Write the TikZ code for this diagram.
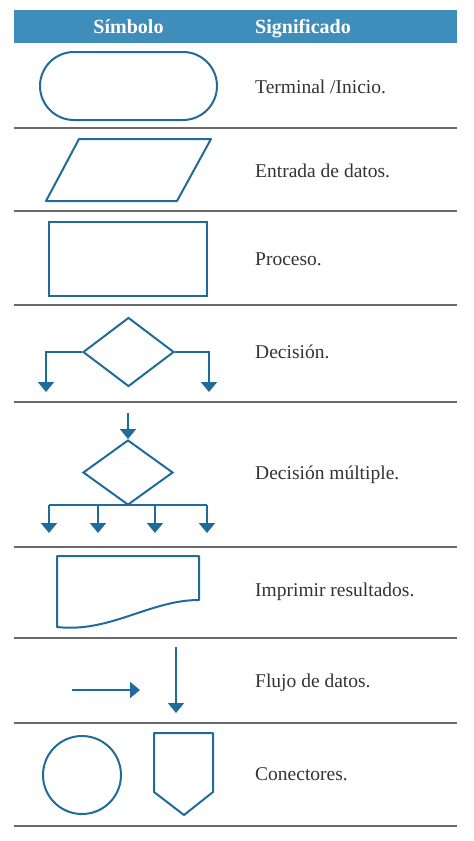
\documentclass[tikz,border=0pt]{standalone}
\usepackage{fontspec}
\setmainfont{Liberation Serif}
\usetikzlibrary{arrows.meta,shapes.geometric,shapes.misc}
\definecolor{blu}{HTML}{1F6C9A}
\definecolor{hdr}{HTML}{3F8DBB}
\definecolor{sepc}{HTML}{6A6A6A}
\definecolor{txt}{HTML}{333333}
\begin{document}
\begin{tikzpicture}[x=1pt,y=-1pt,
  shp/.style={draw=blu,line width=2pt},
  arr/.style={blu,line width=2pt,-{Triangle[length=10pt,width=16pt]}},
  lbl/.style={anchor=west,text=txt,font=\fontsize{19.5}{22}\selectfont,inner sep=0pt},
  hd/.style={text=white,font=\bfseries\fontsize{20}{23}\selectfont,inner sep=0pt},
  sepline/.style={draw=sepc,line width=2pt}]
\useasboundingbox (0,0) rectangle (474,841);
% header
\node[fill=hdr,minimum width=443pt,minimum height=33pt,inner sep=0pt,anchor=north west] (hdrbox) at (14,10) {};
\node[hd,anchor=base] (h1) at (128.5,33) {Símbolo};
\node[hd,anchor=base west] (h2) at (255,33) {Significado};
% separators
\foreach \yy in {128,211,305,402,547,638,723,826}
  \draw[sepline] (14,\yy) -- (457,\yy);
% terminal
\node[shp,rounded rectangle,minimum width=177pt,minimum height=68pt,inner sep=0pt] (term) at (128.5,86) {};
\node[lbl] (t1) at (255,87) {Terminal /Inicio.};
% data input
\draw[shp,line join=round] (79,139) -- (211,139) -- (177,201) -- (46,201) -- cycle;
\node[lbl] (t2) at (255,171) {Entrada de datos.};
% process
\node[shp,rectangle,minimum width=158pt,minimum height=74pt,inner sep=0pt] (proc) at (128,259) {};
\node[lbl] (t3) at (255,259) {Proceso.};
% decision
\node[shp,diamond,minimum width=91pt,minimum height=69pt,inner sep=0pt] (dec) at (128.5,352) {};
\coordinate (decl) at (46,392);
\coordinate (decr) at (209,392);
\draw[arr] (dec.west) -| (decl);
\draw[arr] (dec.east) -| (decr);
\node[lbl] (t4) at (255,352) {Decisión.};
% multiple decision
\node[shp,diamond,minimum width=90pt,minimum height=65pt,inner sep=0pt] (mdec) at (128,472.5) {};
\coordinate (min) at (128,413);
\draw[arr] (min) -- (mdec.north);
\coordinate (b1) at (49,505);
\coordinate (b2) at (98,505);
\coordinate (b3) at (155,505);
\coordinate (b4) at (207,505);
\draw[shp] (b1) -- (b4);
\foreach \bb/\xx in {b1/49,b2/98,b3/155,b4/207}{
  \coordinate (\bb e) at (\xx,533);
  \draw[arr] (\bb) -- (\bb e);
}
\node[lbl] (t5) at (255,475) {Decisión múltiple.};
% print
\draw[shp,line join=round] (57,556) -- (199,556) -- (199,600)
  .. controls (150,600) and (110,633) .. (57,627) -- cycle;
\node[lbl] (t6) at (255,592) {Imprimir resultados.};
% flow
\coordinate (fa) at (72,690);
\coordinate (fb) at (140,690);
\coordinate (fc) at (176,647);
\coordinate (fd) at (176,713);
\draw[arr] (fa) -- (fb);
\draw[arr] (fc) -- (fd);
\node[lbl] (t7) at (255,683) {Flujo de datos.};
% connectors
\node[shp,circle,minimum size=78pt,inner sep=0pt] (circ) at (82,775) {};
\draw[shp,line join=round] (154,733) -- (213,733) -- (213,792) -- (184,815) -- (154,792) -- cycle;
\node[lbl] (t8) at (255,774) {Conectores.};
\end{tikzpicture}
\end{document}
